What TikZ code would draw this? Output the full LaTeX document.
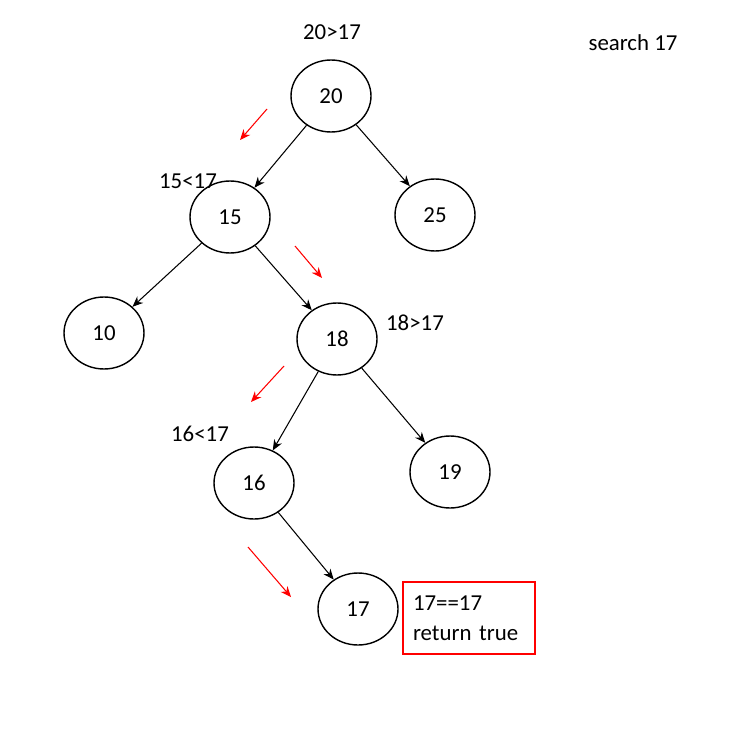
\documentclass[tikz,border=0pt]{standalone}
\usepackage{fontspec}
\setmainfont{Carlito}
\usetikzlibrary{shapes.geometric,arrows.meta}
\begin{document}
\begin{tikzpicture}[x=0.02cm, y=-0.02cm,
        key/.style={ellipse, draw, thick, minimum width=1.6cm, minimum height=1.44cm, inner sep=0pt, font=\fontsize{13}{15.5}\selectfont},
        note/.style={font=\fontsize{13}{15.5}\selectfont},
        link/.style={-{Stealth[length=6pt,width=5pt]}, semithick},
        hint/.style={-{Stealth[length=6pt,width=5pt]}, semithick, red}]
        \useasboundingbox (0,0) rectangle (750,750);

        % Nodes
        \node[key] at (331, 96)  (n20) {20};
        \node[key] at (435, 215) (n25) {25};
        \node[key] at (230, 217) (n15) {15};
        \node[key] at (104, 333) (n10) {10};
        \node[key] at (337, 339) (n18) {18};
        \node[key] at (450, 472) (n19) {19};
        \node[key] at (254, 483) (n16) {16};
        \node[key] at (358, 609) (n17) {17};

        % Comparisons
        \node[note] at (332, 32)  (c20) {20>17};
        \node[note] at (633, 43)  (goal) {search 17};
        \node[note] at (188, 181) (c15) {15<17};
        \node[note] at (415, 323) (c18) {18>17};
        \node[note] at (200, 434) (c16) {16<17};
        \node[note, font=\fontsize{13}{17}\selectfont, draw=red, semithick, align=left, text width=2.24cm, minimum height=1.44cm, inner xsep=0.2cm, inner ysep=2pt] at (469, 618) (found) {17==17\\return true};

        \draw[link] (n20) -- (n15);
        \draw[link] (n20) -- (n25);
        \draw[link] (n15) -- (n10);
        \draw[link] (n15) -- (n18);
        \draw[link] (n18) -- (n16);
        \draw[link] (n18) -- (n19);
        \draw[link] (n16) -- (n17);

        % Search path
        \coordinate (a1) at (267, 109); \coordinate (b1) at (240, 140);
        \coordinate (a2) at (295, 246); \coordinate (b2) at (322, 278);
        \coordinate (a3) at (284, 366); \coordinate (b3) at (251, 402);
        \coordinate (a4) at (248, 547); \coordinate (b4) at (291, 597);
        \draw[hint] (a1) -- (b1);
        \draw[hint] (a2) -- (b2);
        \draw[hint] (a3) -- (b3);
        \draw[hint] (a4) -- (b4);
    \end{tikzpicture}
\end{document}
